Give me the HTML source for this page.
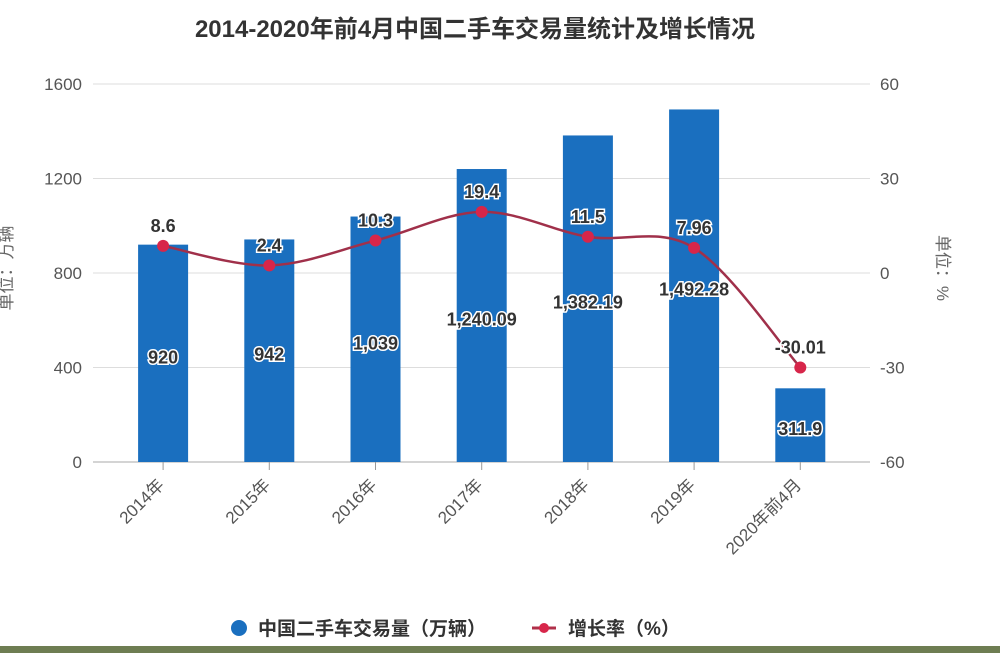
<!DOCTYPE html>
<html><head><meta charset="utf-8"><style>
body{margin:0;background:#fff;}
svg{display:block;font-family:"Liberation Sans","Noto Sans CJK SC",sans-serif;}
</style></head><body>
<svg width="1000" height="653" viewBox="0 0 1000 653">
<rect x="0" y="0" width="1000" height="653" fill="#fff"/>
<text x="475" y="37" text-anchor="middle" font-size="24" font-weight="bold" fill="#333">2014-2020年前4月中国二手车交易量统计及增长情况</text>
<g id="grid"></g><g id="bars"></g><g id="line"></g><g id="labels"></g>
<text transform="translate(12,268) rotate(-90)" text-anchor="middle" font-size="17" fill="#666">单位：万辆</text>
<text transform="translate(937,268) rotate(90)" text-anchor="middle" font-size="17" fill="#666">单位：%</text>
<g>
<g><circle cx="239" cy="628" r="8" fill="#1a6fbf"/><text x="258" y="635" font-size="19" font-weight="bold" fill="#333">中国二手车交易量（万辆）</text></g>
<g><line x1="532" y1="628" x2="556" y2="628" stroke="#b0304a" stroke-width="3"/><circle cx="544" cy="628" r="5" fill="#d7264a"/><text x="568" y="635" font-size="19" font-weight="bold" fill="#333">增长率（%）</text></g>
</g>
<rect x="0" y="646" width="1000" height="7" fill="#6e7d52"/>
</svg>
<script>
const categories=["2014年","2015年","2016年","2017年","2018年","2019年","2020年前4月"];
const volumes=[920,942,1039,1240.09,1382.19,1492.28,311.9];
const volumeLabels=["920","942","1,039","1,240.09","1,382.19","1,492.28","311.9"];
const growth=[8.6,2.4,10.3,19.4,11.5,7.96,-30.01];
const growthLabels=["8.6","2.4","10.3","19.4","11.5","7.96","-30.01"];
const leftTicks=[0,400,800,1200,1600];
const rightTicks=[-60,-30,0,30,60];
const NS="http://www.w3.org/2000/svg";
const x0=110,band=106.2,yBase=462,yTop=84;
const xc=i=>x0+band*(i+0.5);
const yL=v=>yBase-(v/1600)*(yBase-yTop);
const yR=v=>yBase-((v+60)/120)*(yBase-yTop);
function mk(tag,attrs,parent,text){const e=document.createElementNS(NS,tag);for(const k in attrs)e.setAttribute(k,attrs[k]);if(text!==undefined)e.textContent=text;parent.appendChild(e);return e;}
const grid=document.getElementById('grid'),bars=document.getElementById('bars'),line=document.getElementById('line'),labels=document.getElementById('labels');
leftTicks.forEach((t,i)=>{
 const y=yL(t);
 const g=mk('line',{x1:93,x2:870,y1:y,y2:y,stroke:i===0?'#aaa':'#ddd','stroke-width':1},grid);
 
 
 const l=mk('text',{x:82,y:y+6,'text-anchor':'end','font-size':17,fill:'#555'},grid,String(t));
 
 
});
rightTicks.forEach(t=>{
 const l=mk('text',{x:880,y:yR(t)+6,'font-size':17,fill:'#555'},grid,String(t));
 
 
});
categories.forEach((c,i)=>{
 const x=xc(i);
 const tk=mk('line',{x1:x,x2:x,y1:yBase,y2:yBase+8,stroke:'#999'},grid);
 
 
 const t=mk('text',{transform:`translate(${x+2},${yBase+24}) rotate(-45)`,'text-anchor':'end','font-size':17,fill:'#555'},grid,c);
 
 
 const y=yL(volumes[i]);
 const b=mk('rect',{x:x-25,y:y,width:50,height:yBase-y,fill:'#1a6fbf'},bars);
 
 
 const vl=mk('text',{x:x,y:(y+yBase)/2+10,'text-anchor':'middle','font-size':18,'font-weight':'bold',fill:'#333',stroke:'#fff','stroke-width':3,'paint-order':'stroke'},labels,volumeLabels[i]);
 
 
});
const pts=growth.map((g,i)=>[xc(i),yR(g)]);
let d=`M${pts[0][0]},${pts[0][1]}`;
for(let i=0;i<pts.length-1;i++){
 const p0=pts[Math.max(0,i-1)],p1=pts[i],p2=pts[i+1],p3=pts[Math.min(pts.length-1,i+2)];
 const c1=[p1[0]+(p2[0]-p0[0])/6,p1[1]+(p2[1]-p0[1])/6],c2=[p2[0]-(p3[0]-p1[0])/6,p2[1]-(p3[1]-p1[1])/6];
 d+=` C${c1[0]},${c1[1]} ${c2[0]},${c2[1]} ${p2[0]},${p2[1]}`;
}
const path=mk('path',{d:d,fill:'none',stroke:'#a0304a','stroke-width':2.5},line);


pts.forEach((p,i)=>{
 const c=mk('circle',{cx:p[0],cy:p[1],r:6,fill:'#d7264a'},line);
 
 
 const t=mk('text',{x:p[0],y:p[1]-14,'text-anchor':'middle','font-size':18,'font-weight':'bold',fill:'#333',stroke:'#fff','stroke-width':3,'paint-order':'stroke'},labels,growthLabels[i]);
 
 
});
</script>
</body></html>
